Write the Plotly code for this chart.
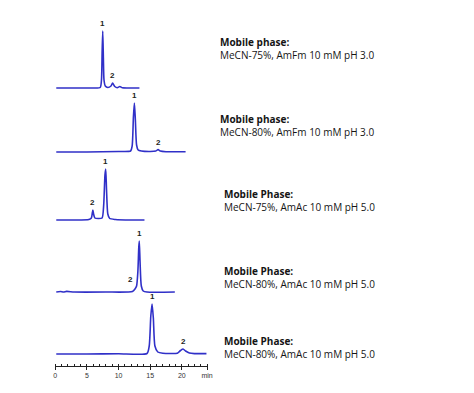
import plotly.graph_objects as go

# ---- data (time in min, signal in arbitrary units) ----
t1 = [0.15, 3.0, 6.0, 7.1, 7.3, 7.4, 7.5, 7.6, 7.7, 7.9, 8.3, 8.8, 9.06, 9.4, 9.8, 10.2, 10.6, 11.5, 13.3]
s1 = [0, 0, 0, 0.5, 8, 35, 57, 30, 8, 2, 0.5, 2, 5, 1.5, 0.3, 1.5, 0.2, 0, 0]

t2 = [0.15, 5.0, 10.0, 11.9, 12.15, 12.35, 12.5, 12.65, 12.85, 13.1, 13.6, 15.0, 15.9, 16.25, 16.6, 17.5, 20.6]
s2 = [0, 0, 0.5, 1, 6, 35, 49, 33, 7, 2, 1, 0.5, 1, 2.5, 1, 0.3, 0.3]

t3 = [0.15, 3.0, 5.3, 5.7, 5.85, 5.94, 6.05, 6.25, 6.8, 7.4, 7.65, 7.85, 7.97, 8.1, 8.3, 8.6, 9.5, 12.0, 14.1]
s3 = [0, 0, 0.5, 2, 7, 10, 6, 2, 1.5, 2, 15, 45, 51, 30, 6, 1.5, 0.5, 0, 0]

t4 = [0.15, 0.8, 1.3, 1.8, 3.0, 8.0, 12.2, 12.6, 12.85, 13.05, 13.2, 13.28, 13.4, 13.6, 13.9, 14.5, 18.9]
s4 = [0, 0.5, 0, 0.6, 0, 0, 0.5, 3, 6, 20, 45, 51, 30, 6, 1, 0, 0]

t5 = [0.15, 5.0, 10.0, 14.5, 14.85, 15.1, 15.3, 15.5, 15.75, 16.2, 17.0, 19.3, 19.8, 20.2, 20.6, 21.2, 22.0, 23.9]
s5 = [0, 0, 0.3, 0.5, 8, 38, 50, 36, 8, 2, 0.8, 0.8, 3.5, 5, 3, 1, 0.4, 0.4]

times = [t1, t2, t3, t4, t5]
signals = [s1, s2, s3, s4, s5]

# peak labels: (time, signal at apex, label)
peaks = [
    [(7.5, 57, "1"), (9.06, 5, "2")],
    [(12.5, 49, "1"), (16.25, 2.5, "2")],
    [(7.97, 51, "1"), (5.94, 10, "2")],
    [(13.28, 51, "1"), (12.55, 5, "2")],
    [(15.3, 50, "1"), (20.2, 5, "2")],
]

phase_titles = ["Mobile phase:", "Mobile phase:", "Mobile Phase:", "Mobile Phase:", "Mobile Phase:"]
phase_texts = [
    "MeCN-75%, AmFm 10 mM pH 3.0",
    "MeCN-80%, AmFm 10 mM pH 3.0",
    "MeCN-75%, AmAc 10 mM pH 5.0",
    "MeCN-80%, AmAc 10 mM pH 5.0",
    "MeCN-80%, AmAc 10 mM pH 5.0",
]

x_tickvals = [0, 5, 10, 15, 20, 24]
x_ticktext = ["0", "5", "10", "15", "20", "min"]

# ---- layout helpers (pixel positions in a 474 x 393 canvas) ----
W, H = 474, 393
baseline_px = [88, 152, 220, 292, 354]
text_x_px = [219, 219, 223, 223, 223]
block_mid_px = [49, 125.5, 201, 277.5, 347]
blue = "rgb(48,48,200)"

fig = go.Figure()
for i in range(5):
    off = -baseline_px[i]
    fig.add_trace(go.Scatter(
        x=times[i], y=[v + off for v in signals[i]], mode="lines",
        line=dict(color=blue, width=1.6, shape="spline", smoothing=0.6),
        showlegend=False, hoverinfo="skip"))
    for (pt, ph, lab) in peaks[i]:
        fig.add_annotation(x=pt, y=ph + off, text="<b>" + lab + "</b>", showarrow=False,
                           yanchor="bottom", yshift=1, xshift=(-4 if (i == 3 and lab == "2") else 0),
                           font=dict(family="Arial", size=8, color="#222222"))
    fig.add_annotation(xref="paper", yref="paper", x=text_x_px[i] / W,
                       y=1 - block_mid_px[i] / H,
                       text="<b>" + phase_titles[i] + "</b><br>" + phase_texts[i],
                       showarrow=False, xanchor="left", yanchor="middle", align="left",
                       font=dict(family="Open Sans", size=10, color="#151515"))

fig.update_layout(
    width=W, height=H, margin=dict(l=0, r=0, t=0, b=0),
    paper_bgcolor="white", plot_bgcolor="white",
    xaxis=dict(domain=[54 / W, 209 / W], range=[0, 24.2], anchor="free",
               position=(H - 366) / H,
               showline=True, linecolor="#222222", linewidth=1,
               showgrid=False, zeroline=False,
               tickmode="array", tickvals=x_tickvals, ticktext=x_ticktext,
               ticks="outside", ticklen=3, tickcolor="#222222",
               tickfont=dict(family="Arial", size=7, color="#333333"),
               minor=dict(dtick=1, ticks="inside", ticklen=2, tickcolor="#222222", showgrid=False)),
    yaxis=dict(domain=[0, 1], range=[-H, 0], visible=False, showgrid=False, zeroline=False),
)

fig.write_html("out.html")
